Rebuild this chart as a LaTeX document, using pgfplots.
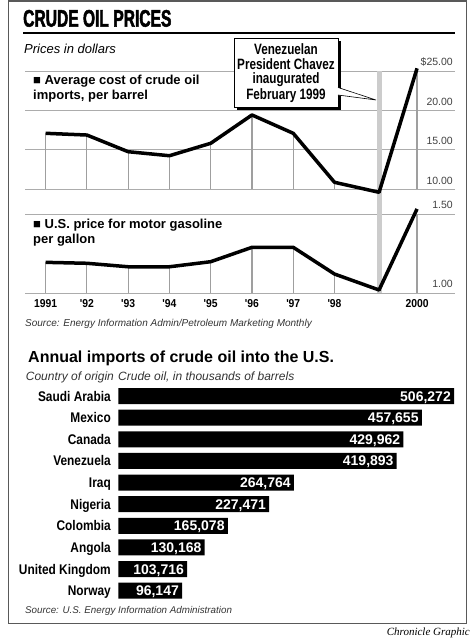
\documentclass[border=0pt]{standalone}
\usepackage{fontspec}
\setmainfont{Liberation Sans}
\usepackage{pgfplots}
\pgfplotsset{compat=1.18}
\newfontfamily\titlefont[FakeStretch=0.65,FakeBold=2]{Liberation Sans}
\newfontfamily\boxfont[FakeStretch=0.78]{Liberation Sans}
\newfontfamily\countryfont[FakeStretch=0.85]{Liberation Sans}
\newfontfamily\tickfont[FakeStretch=0.9]{Liberation Sans}
\newfontfamily\chronfont{Liberation Serif}
\newcommand\fs[1]{\fontsize{#1bp}{#1bp}\selectfont}
\pgfplotsset{
  base/.style={anchor=south west, scale only axis, enlargelimits=false,
    axis line style={draw=none}, tick style={draw=none}, major tick length=0pt},
  topgeom/.style={at={(25bp,-189bp)}, width=430bp, height=118bp,
    xmin=1990.5, xmax=2000.92, ymin=10, ymax=25},
  botgeom/.style={at={(25bp,-293.3bp)}, width=430bp, height=79bp,
    xmin=1990.5, xmax=2000.92, ymin=1, ymax=1.5},
}
\begin{document}
\begin{tikzpicture}[x=1bp,y=-1bp]
\useasboundingbox (0,0) rectangle (472,640);
\draw[black!65, line width=1.2bp] (8.5,1) rectangle (466.5,623.5);
\node[anchor=base west, inner sep=0pt] at (23,26.7) {\titlefont\bfseries\fs{24}CRUDE OIL PRICES};
\draw[line width=2.4bp] (23,33) -- (455,33);
\node[anchor=base west, inner sep=0pt] at (24,54) {\itshape\fs{13}Prices in dollars};

% grid + drop lines (clipped)
\begin{axis}[base, topgeom, xtick=\empty, ytick={10,15,20,25},
  yticklabels={10.00,15.00,20.00,\$25.00}, yticklabel pos=right,
  yticklabel style={anchor=base east, inner sep=0pt, xshift=-2bp, yshift=5bp, font=\fs{10.5}, text=black!75},
  ymajorgrids, grid style={draw=gray!65, line width=0.8bp}, clip=true]
\addplot[ycomb, draw=gray!75, line width=1.1bp, mark=none] coordinates {
(1991,17.08) (1992,16.86) (1993,14.74) (1994,14.23) (1995,15.81) (1996,19.41) (1997,17.08) (1998,10.85) (2000,25.34)};
\end{axis}
\begin{axis}[base, botgeom, xtick={1991,1992,1993,1994,1995,1996,1997,1998,2000},
  xticklabels={1991,'92,'93,'94,'95,'96,'97,'98,2000},
  xticklabel style={anchor=base, inner sep=0pt, yshift=-14bp, font=\tickfont\bfseries\fs{11.5}},
  ytick={1,1.5}, yticklabels={1.00,1.50}, yticklabel pos=right,
  yticklabel style={anchor=base east, inner sep=0pt, xshift=-2bp, yshift=6bp, font=\fs{10.5}, text=black!75},
  ymajorgrids, grid style={draw=gray!65, line width=0.8bp}, clip=true]
\addplot[ycomb, draw=gray!75, line width=1.1bp, mark=none] coordinates {
(1991,1.196) (1992,1.19) (1993,1.168) (1994,1.168) (1995,1.20) (1996,1.291) (1997,1.291) (1998,1.122) (2000,1.534)};
\end{axis}

\fill[gray!40] (377,71) rectangle (382,293.3);

% data lines
\begin{axis}[base, topgeom, hide axis, clip=false]
\addplot[black, line width=3.5bp, line join=round] coordinates {
(1991,17.08) (1992,16.86) (1993,14.74) (1994,14.23) (1995,15.81) (1996,19.41) (1997,17.08) (1998,10.85) (1999.08,9.58) (2000,25.34)};
\end{axis}
\begin{axis}[base, botgeom, hide axis, clip=false]
\addplot[black, line width=3.5bp, line join=round] coordinates {
(1991,1.196) (1992,1.19) (1993,1.168) (1994,1.168) (1995,1.20) (1996,1.291) (1997,1.291) (1998,1.122) (1999.08,1.021) (2000,1.534)};
\end{axis}

% legends
\node[anchor=base west, inner sep=0pt] at (33,85) {\bfseries\fs{13}■ Average cost of crude oil};
\node[anchor=base west, inner sep=0pt] at (33,99.3) {\bfseries\fs{13}imports, per barrel};
\node[anchor=base west, inner sep=0pt] at (33,228.3) {\bfseries\fs{13}■ U.S. price for motor gasoline};
\node[anchor=base west, inner sep=0pt] at (33,243.3) {\bfseries\fs{13}per gallon};

% annotation box
\fill[black] (237,41) rectangle (341,110);
\filldraw[fill=white, draw=black, line width=0.8bp] (234,38) rectangle (338,107);
\fill[white] (337.5,87.5) -- (376,100) -- (337.5,95) -- cycle;
\draw[line width=0.6bp] (338,87.5) -- (376,100) -- (338,95);
\node[anchor=base, inner sep=0pt] at (286,55) {\boxfont\bfseries\fs{15}Venezuelan};
\node[anchor=base, inner sep=0pt] at (286,69.5) {\boxfont\bfseries\fs{15}President Chavez};
\node[anchor=base, inner sep=0pt] at (286,84) {\boxfont\bfseries\fs{15}inaugurated};
\node[anchor=base, inner sep=0pt] at (286,99.3) {\boxfont\bfseries\fs{15}February 1999};

\node[anchor=base west, inner sep=0pt, text=black!80] at (25,326.7) {\itshape\fs{10}Source: Energy Information Admin/Petroleum Marketing Monthly};

% bar chart
\node[anchor=base west, inner sep=0pt] at (28,362.7) {\bfseries\fs{16}Annual imports of crude oil into the U.S.};
\node[anchor=base west, inner sep=0pt, text=black!80] at (25.7,380.7) {\itshape\fs{12}Country of origin};
\node[anchor=base west, inner sep=0pt, text=black!80] at (118,380.7) {\itshape\fs{12}Crude oil, in thousands of barrels};

\begin{axis}[base, at={(118.3bp,-601.5bp)}, width=335.7bp, height=216.3bp,
  xmin=0, xmax=506272, ymin=-0.5, ymax=9.5, y dir=reverse,
  xbar, bar width=16bp, xtick=\empty, ytick={0,1,2,3,4,5,6,7,8,9},
  yticklabels={Saudi Arabia,Mexico,Canada,Venezuela,Iraq,Nigeria,Colombia,Angola,United Kingdom,Norway},
  yticklabel style={anchor=base east, inner sep=0pt, xshift=-7.3bp, yshift=-5bp, font=\countryfont\bfseries\fs{14}},
  point meta=x,
  nodes near coords={\pgfmathprintnumber[fixed,precision=0,1000 sep={,},assume math mode=true]{\pgfplotspointmeta}},
  nodes near coords style={anchor=base east, inner sep=0pt, xshift=-3bp, yshift=-5bp, text=white, font=\bfseries\fs{14}},
  clip=false]
\addplot[fill=black, draw=none] coordinates {
(506272,0) (457655,1) (429962,2) (419893,3) (264764,4) (227471,5) (165078,6) (130168,7) (103716,8) (96147,9)};
\end{axis}

\node[anchor=base west, inner sep=0pt, text=black!80] at (25,613.3) {\itshape\fs{9.8}Source: U.S. Energy Information Administration};
\node[anchor=base east, inner sep=0pt] at (470,635.5) {\chronfont\itshape\fs{11}Chronicle Graphic};
\end{tikzpicture}
\end{document}
